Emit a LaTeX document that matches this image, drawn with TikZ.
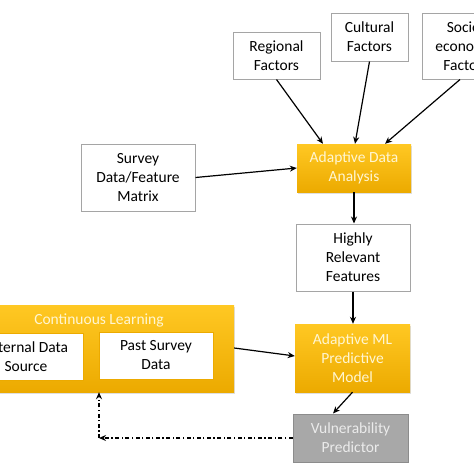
\documentclass[tikz,border=0pt]{standalone}
\usepackage{fontspec}
\setmainfont{Carlito}
\usetikzlibrary{arrows.meta,shadows}
\definecolor{goldtop}{RGB}{255,200,35}
\definecolor{goldbot}{RGB}{236,170,0}
\definecolor{boxline}{RGB}{165,165,165}
\definecolor{greyfill}{RGB}{168,168,168}
\definecolor{greyline}{RGB}{140,140,140}
\definecolor{goldtext}{RGB}{255,246,210}
\tikzset{
  plain/.style={draw=boxline, line width=1pt, fill=white, align=center, inner sep=0pt,
    font=\fontsize{15.5}{19}\selectfont, text=black},
  goldbox/.style={top color=goldtop, bottom color=goldbot, draw=none, align=center, inner sep=0pt,
    font=\fontsize{15.5}{19}\selectfont, text=goldtext,
    drop shadow={shadow xshift=1pt, shadow yshift=-1.5pt, opacity=0.25}},
  greybox/.style={fill=greyfill, draw=greyline, line width=1pt, align=center, inner sep=0pt,
    font=\fontsize{15.5}{19}\selectfont, text=white!92!black},
  arr/.style={line width=1.2pt, -{Stealth[length=7pt,width=6pt]}},
  dasharr/.style={line width=1.2pt, dash pattern=on 4pt off 2.5pt on 1.2pt off 2.5pt, -{Stealth[length=7pt,width=6pt]}}
}
\begin{document}
\begin{tikzpicture}[x=1pt,y=-1pt]
\useasboundingbox (0,0) rectangle (474,474);
\fill[white] (0,0) rectangle (474,474);
\clip (0,0) rectangle (474,474);
% top factor boxes
\node[plain, minimum width=87pt, minimum height=47pt] (reg) at (276.5,55.5) {Regional\\Factors};
\node[plain, minimum width=77pt, minimum height=48pt] (cul) at (369.5,37) {Cultural\\Factors};
\node[plain, minimum width=87pt, minimum height=66pt] (soc) at (466,46) {Socio-\\economic\\Factors};
% middle
\node[plain, minimum width=114pt, minimum height=67pt] (sur) at (138,177.5) {Survey\\Data/Feature\\Matrix};
\node[goldbox, minimum width=114pt, minimum height=48pt] (ada) at (354,168) {Adaptive Data\\Analysis};
\node[plain, minimum width=114pt, minimum height=67pt] (hrf) at (353,257.5) {Highly\\Relevant\\Features};
% continuous learning
\node[goldbox, minimum width=270pt, minimum height=87pt] (cl) at (99,348.5) {};
\node[text=goldtext, font=\fontsize{15.5}{19}\selectfont] (cltitle) at (99,320) {Continuous Learning};
\node[plain, draw=goldbot, minimum width=114pt, minimum height=47pt] (ext) at (26,356.5) {External Data\\Source};
\node[plain, draw=goldbot, minimum width=114pt, minimum height=47pt] (psd) at (156,355.5) {Past Survey\\Data};
\node[goldbox, minimum width=115pt, minimum height=68pt] (ml) at (352.5,358) {Adaptive ML\\Predictive\\Model};
\node[greybox, minimum width=115pt, minimum height=48pt] (vp) at (350.5,438) {Vulnerability\\Predictor};
% arrows
\draw[arr] (reg.south) -- (ada.north -| 323,0);
\draw[arr] (cul.south) -- (ada.north -| 355,0);
\draw[arr] ([xshift=-6pt]soc.south) -- (ada.north -| 385,0);
\draw[arr] (sur.east) -- (ada.west);
\draw[arr] (ada.south) -- (hrf.north -| ada.south);
\draw[arr] (hrf.south) -- (ml.north -| hrf.south);
\draw[arr] (cl.east |- 0,348) -- (ml.west |- 0,356);
\draw[arr] (ml.south) -- (vp.north -| 333,0);
\coordinate (corner) at (99,438);
\draw[dasharr] (vp.west) -- (corner);
\draw[dasharr] (corner) -- (cl.south -| corner);
\end{tikzpicture}
\end{document}
